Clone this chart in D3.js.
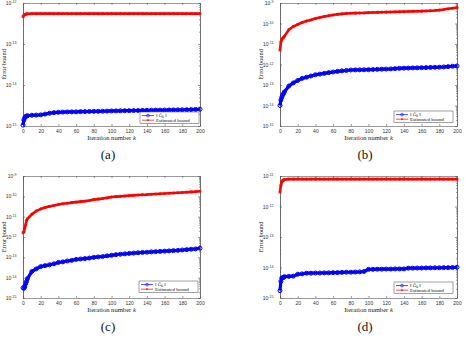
<!DOCTYPE html>
<html>
<head>
<meta charset="utf-8">
<script src="https://cdn.jsdelivr.net/npm/d3@7"></script>
<style>
  body { margin: 0; background: #fff; }
  svg { display: block; }
  text { font-family: "Liberation Serif", "DejaVu Serif", serif; }
</style>
</head>
<body>
<svg width="474" height="351"></svg>
<script>
var iters = [0,1,2,3,4,5,10,15,20,25,30,35,40,45,50,55,60,65,70,75,80,85,90,95,100,
  105,110,115,120,125,130,135,140,145,150,155,160,165,170,175,180,185,190,195,200];

// (a)
var normA = [1.05e-15,1.4e-15,1.6e-15,1.7e-15,1.75e-15,1.78e-15,1.83e-15,1.85e-15,1.87e-15,1.95e-15,
  2.05e-15,2.12e-15,2.16e-15,2.18e-15,2.2e-15,2.21e-15,2.22e-15,2.24e-15,2.25e-15,2.26e-15,
  2.27e-15,2.28e-15,2.29e-15,2.31e-15,2.33e-15,2.34e-15,2.35e-15,2.36e-15,2.37e-15,2.38e-15,
  2.39e-15,2.4e-15,2.41e-15,2.42e-15,2.43e-15,2.44e-15,2.45e-15,2.46e-15,2.47e-15,2.48e-15,
  2.49e-15,2.5e-15,2.52e-15,2.54e-15,2.56e-15];
var boundA = [4.6e-13,5.0e-13,5.2e-13,5.3e-13,5.4e-13,5.45e-13,5.5e-13,5.5e-13,5.5e-13,5.5e-13,
  5.5e-13,5.5e-13,5.5e-13,5.5e-13,5.5e-13,5.5e-13,5.5e-13,5.5e-13,5.5e-13,5.5e-13,
  5.5e-13,5.5e-13,5.5e-13,5.5e-13,5.5e-13,5.5e-13,5.5e-13,5.5e-13,5.5e-13,5.5e-13,
  5.5e-13,5.5e-13,5.5e-13,5.5e-13,5.5e-13,5.5e-13,5.5e-13,5.5e-13,5.5e-13,5.5e-13,
  5.5e-13,5.5e-13,5.5e-13,5.5e-13,5.5e-13];

// (b)
var normB = [1.0e-14,1.86e-14,2.5e-14,3.2e-14,3.8e-14,4.6e-14,8.9e-14,1.26e-13,1.66e-13,2.1e-13,
  2.4e-13,2.75e-13,3.16e-13,3.4e-13,3.7e-13,4.0e-13,4.3e-13,4.6e-13,4.9e-13,5.1e-13,
  5.4e-13,5.45e-13,5.5e-13,5.55e-13,5.6e-13,5.7e-13,5.8e-13,5.9e-13,6.0e-13,6.1e-13,
  6.3e-13,6.5e-13,6.6e-13,6.7e-13,6.8e-13,6.9e-13,7.0e-13,7.1e-13,7.2e-13,7.3e-13,
  7.4e-13,7.6e-13,7.9e-13,8.2e-13,8.5e-13];
var boundB = [5.0e-12,1.26e-11,1.6e-11,1.9e-11,2.1e-11,2.4e-11,5.0e-11,7.1e-11,8.9e-11,1.12e-10,
  1.32e-10,1.5e-10,1.74e-10,1.95e-10,2.2e-10,2.4e-10,2.6e-10,2.8e-10,2.95e-10,3.1e-10,
  3.16e-10,3.2e-10,3.25e-10,3.3e-10,3.4e-10,3.45e-10,3.5e-10,3.55e-10,3.6e-10,3.65e-10,
  3.7e-10,3.75e-10,3.8e-10,3.85e-10,3.9e-10,3.95e-10,4.0e-10,4.1e-10,4.2e-10,4.3e-10,
  4.5e-10,4.8e-10,5.2e-10,5.6e-10,6.0e-10];

// (c)
var normC = [3.2e-15,3.0e-15,3.5e-15,5.0e-15,6.5e-15,8.9e-15,2.0e-14,2.7e-14,3.5e-14,3.9e-14,
  4.3e-14,4.8e-14,5.6e-14,6.0e-14,6.6e-14,7.1e-14,7.9e-14,8.3e-14,8.7e-14,9.2e-14,
  1.0e-13,1.05e-13,1.1e-13,1.18e-13,1.26e-13,1.35e-13,1.42e-13,1.48e-13,1.55e-13,1.62e-13,
  1.68e-13,1.74e-13,1.78e-13,1.85e-13,1.9e-13,1.96e-13,2.02e-13,2.08e-13,2.14e-13,2.2e-13,
  2.3e-13,2.4e-13,2.5e-13,2.6e-13,2.8e-13];
var boundC = [1.6e-12,1.8e-12,2.8e-12,4.0e-12,6.3e-12,7.9e-12,1.3e-11,1.9e-11,2.4e-11,2.8e-11,
  3.2e-11,3.5e-11,4.0e-11,4.3e-11,4.6e-11,4.9e-11,5.2e-11,5.5e-11,5.8e-11,6.2e-11,
  6.9e-11,7.3e-11,7.8e-11,8.4e-11,9.3e-11,9.7e-11,1.0e-10,1.04e-10,1.08e-10,1.12e-10,
  1.16e-10,1.2e-10,1.22e-10,1.26e-10,1.3e-10,1.34e-10,1.38e-10,1.42e-10,1.46e-10,1.5e-10,
  1.55e-10,1.6e-10,1.65e-10,1.7e-10,1.78e-10];

// (d)
var normD = [1.74e-15,3.5e-15,4.5e-15,4.6e-15,4.7e-15,5.0e-15,5.1e-15,5.2e-15,6.0e-15,6.2e-15,
  6.5e-15,6.5e-15,6.6e-15,6.6e-15,6.7e-15,6.7e-15,6.8e-15,6.8e-15,6.9e-15,7.0e-15,
  7.0e-15,7.1e-15,7.2e-15,7.4e-15,8.7e-15,8.7e-15,8.8e-15,8.8e-15,8.9e-15,8.9e-15,
  9.0e-15,9.0e-15,9.0e-15,9.5e-15,9.5e-15,9.6e-15,9.6e-15,9.7e-15,9.7e-15,9.8e-15,
  9.8e-15,9.9e-15,9.9e-15,1.0e-14,1.02e-14];
var boundD = [2.95e-12,5.0e-12,6.3e-12,7.0e-12,7.4e-12,7.6e-12,7.9e-12,7.9e-12,7.9e-12,7.9e-12,
  7.9e-12,7.9e-12,7.9e-12,7.9e-12,7.9e-12,7.9e-12,7.9e-12,7.9e-12,7.9e-12,7.9e-12,
  7.9e-12,7.9e-12,7.9e-12,7.9e-12,7.9e-12,7.9e-12,7.9e-12,7.9e-12,7.9e-12,7.9e-12,
  7.9e-12,7.9e-12,7.9e-12,7.9e-12,7.9e-12,7.9e-12,7.9e-12,7.9e-12,7.9e-12,7.9e-12,
  7.9e-12,7.9e-12,7.9e-12,7.9e-12,7.9e-12];

var xTicks = [0,20,40,60,80,100,120,140,160,180,200];
var panelNames = ['(a)', '(b)', '(c)', '(d)'];
var legendLabels = ['Estimated bound'];

var panels = [
  {name: panelNames[0], left: 23, top: 3, w: 177, h: 123, exp: [-15, -12], norm: normA, bound: boundA, leg: [140, 112]},
  {name: panelNames[1], left: 280, top: 3, w: 177, h: 123, exp: [-15, -9], norm: normB, bound: boundB, leg: [394, 111]},
  {name: panelNames[2], left: 23, top: 176, w: 177, h: 122, exp: [-15, -9], norm: normC, bound: boundC, leg: [139, 281]},
  {name: panelNames[3], left: 280, top: 176, w: 177, h: 122, exp: [-15, -11], norm: normD, bound: boundD, leg: [394, 282]}
];

var svg = d3.select('svg');
var BLUE = '#0000ff', RED = '#ff0000', AX = '#555';

function starPath(s) {
  return 'M' + (-s) + ',0H' + s + 'M0,' + (-s) + 'V' + s +
    'M' + (-s * 0.7) + ',' + (-s * 0.7) + 'L' + (s * 0.7) + ',' + (s * 0.7) +
    'M' + (-s * 0.7) + ',' + (s * 0.7) + 'L' + (s * 0.7) + ',' + (-s * 0.7);
}

panels.forEach(function(p) {
  var g = svg.append('g').attr('transform', 'translate(' + p.left + ',' + p.top + ')');
  var x = d3.scaleLinear().domain([0, 200]).range([0, p.w]);
  var y = d3.scaleLog().domain([Math.pow(10, p.exp[0]), Math.pow(10, p.exp[1])]).range([p.h, 0]);

  var decades = d3.range(p.exp[0], p.exp[1] + 1).map(function(e) { return Math.pow(10, e); });
  var minors = [];
  d3.range(p.exp[0], p.exp[1]).forEach(function(e) {
    for (var m = 2; m < 10; m++) minors.push(m * Math.pow(10, e));
  });

  // minor ticks left/right
  g.append('g').attr('class', 'minor')
    .call(d3.axisLeft(y).tickValues(minors).tickSizeInner(-1).tickSizeOuter(0).tickFormat(''));
  g.append('g').attr('class', 'minor').attr('transform', 'translate(' + p.w + ',0)')
    .call(d3.axisRight(y).tickValues(minors).tickSizeInner(-1).tickSizeOuter(0).tickFormat(''));

  // left axis with 10^n labels
  var yl = g.append('g').attr('class', 'yax')
    .call(d3.axisLeft(y).tickValues(decades).tickSizeInner(-2).tickSizeOuter(0).tickPadding(2.5).tickFormat(function() { return '10'; }));
  yl.selectAll('.tick text').each(function(d) {
    var e = Math.round(Math.log10(d));
    d3.select(this).append('tspan').attr('dy', '-0.55em').style('font-size', '3.6px').text(String(e).replace('-', '-'));
  }).attr('dx', '-4px');
  g.append('g').attr('transform', 'translate(' + p.w + ',0)')
    .call(d3.axisRight(y).tickValues(decades).tickSizeInner(-2).tickSizeOuter(0).tickFormat(''));

  // x axes
  g.append('g').attr('class', 'xax').attr('transform', 'translate(0,' + p.h + ')')
    .call(d3.axisBottom(x).tickValues(xTicks).tickSizeInner(-2).tickSizeOuter(0).tickPadding(3));
  g.append('g')
    .call(d3.axisTop(x).tickValues(xTicks).tickSizeInner(-2).tickSizeOuter(0).tickFormat(''));

  g.selectAll('.domain, .tick line').attr('stroke', AX).attr('stroke-width', 0.6);
  g.selectAll('.tick text').attr('fill', '#333').style('font-size', '5px')
    .style('font-family', '"Liberation Sans", Arial, sans-serif');

  var normPts = d3.zip(iters, p.norm);
  var boundPts = d3.zip(iters, p.bound);
  var line = d3.line().x(function(d) { return x(d[0]); }).y(function(d) { return y(d[1]); });

  // bound series (red, star markers)
  g.append('path').datum(boundPts).attr('d', line)
    .attr('fill', 'none').attr('stroke', RED).attr('stroke-width', 2.6);
  g.selectAll('.star').data(boundPts).enter().append('path')
    .attr('class', 'star')
    .attr('transform', function(d) { return 'translate(' + x(d[0]) + ',' + y(d[1]) + ')'; })
    .attr('d', starPath(1.6)).attr('stroke', RED).attr('stroke-width', 0.8).attr('fill', 'none');

  // norm series (blue, circle markers)
  g.append('path').datum(normPts).attr('d', line)
    .attr('fill', 'none').attr('stroke', BLUE).attr('stroke-width', 3.2);
  g.selectAll('.circ').data(normPts).enter().append('circle')
    .attr('cx', function(d) { return x(d[0]); })
    .attr('cy', function(d) { return y(d[1]); })
    .attr('r', 2).attr('fill', 'none').attr('stroke', BLUE).attr('stroke-width', 1);

  // axis labels
  g.append('text').attr('x', p.w / 2).attr('y', p.h + 13.5)
    .attr('text-anchor', 'middle').style('font-size', '6.6px').attr('fill', '#222')
    .text('Iteration number ').append('tspan').style('font-style', 'italic').text('k');
  g.append('text').attr('transform', 'translate(-17,' + (p.h / 2) + ') rotate(-90)')
    .attr('text-anchor', 'middle').style('font-size', '6.3px').attr('fill', '#222')
    .text('Error bound');

  // panel label
  svg.append('text').attr('x', p.left + p.w / 2 - 3.5).attr('y', p.top + p.h + 33)
    .attr('text-anchor', 'middle').style('font-size', '13px').attr('fill', '#111')
    .text(p.name);

  // legend
  var lg = svg.append('g').attr('transform', 'translate(' + p.leg[0] + ',' + p.leg[1] + ')');
  lg.append('rect').attr('width', 59).attr('height', 11.5)
    .attr('fill', '#fff').attr('stroke', '#444').attr('stroke-width', 0.5);
  lg.append('line').attr('x1', 2).attr('x2', 14).attr('y1', 3.6).attr('y2', 3.6)
    .attr('stroke', BLUE).attr('stroke-width', 0.7);
  lg.append('circle').attr('cx', 8).attr('cy', 3.6).attr('r', 1.4)
    .attr('fill', 'none').attr('stroke', BLUE).attr('stroke-width', 0.6);
  var t1 = lg.append('text').attr('x', 16).attr('y', 5.4).style('font-size', '5px').attr('fill', '#111');
  t1.append('tspan').text('\u2016 G\u0302');
  t1.append('tspan').attr('dy', '1px').style('font-size', '3.5px').text('k');
  t1.append('tspan').attr('dy', '-1px').text(' \u2016');
  lg.append('line').attr('x1', 2).attr('x2', 14).attr('y1', 8.2).attr('y2', 8.2)
    .attr('stroke', RED).attr('stroke-width', 0.7);
  lg.append('path').attr('transform', 'translate(8,8.2)').attr('d', starPath(1))
    .attr('stroke', RED).attr('stroke-width', 0.5).attr('fill', 'none');
  lg.append('text').attr('x', 16).attr('y', 10).style('font-size', '5px').attr('fill', '#111')
    .text(legendLabels[0]);
});
</script>
</body>
</html>
